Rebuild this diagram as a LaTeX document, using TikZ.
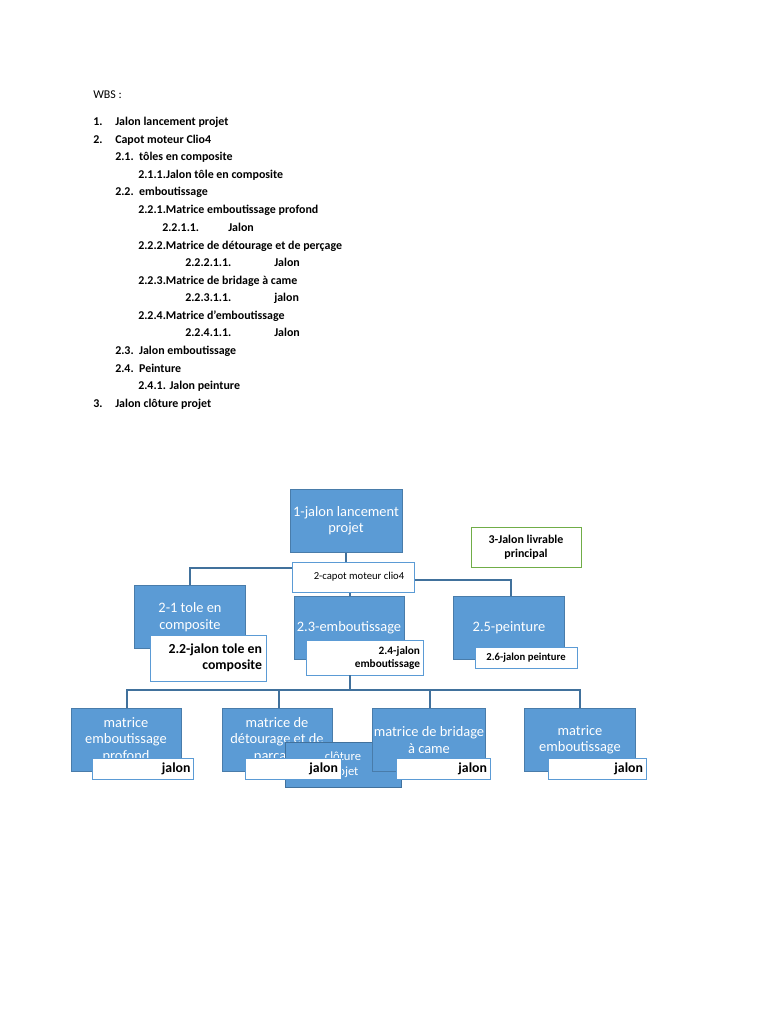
\documentclass[tikz,border=0pt]{standalone}
\usepackage{fontspec}
\setmainfont{Carlito}
\definecolor{wbsblue}{HTML}{5B9BD5}
\definecolor{wbsedge}{HTML}{41719C}
\definecolor{wbsgreen}{HTML}{70AD47}
\newcommand\px{0.7969pt}
\tikzset{
  task/.style={fill=wbsblue, draw=wbsblue!80!black, text=white, font=\fontsize{11.5}{13}\selectfont, align=center, inner sep=1pt},
  mile/.style={fill=white, draw=wbsblue, font=\fontsize{9.5}{11}\selectfont\bfseries, align=flush right, inner sep=2pt},
  item/.style={anchor=base west, font=\fontsize{9.5}{11}\selectfont\bfseries, inner sep=0pt},
  wire/.style={draw=wbsedge, line width=0.9pt}
}
\begin{document}
\begin{tikzpicture}[x=0.7969pt, y=-0.7969pt]
\useasboundingbox (0,0) rectangle (768,1024);
% liste WBS
\node[item, font=\fontsize{9.5}{11}\selectfont] (W0) at (93,99) {WBS :};
\node[item] (W1n) at (93,126) {1.};
\node[item] (W1) at (115,126) {Jalon lancement projet};
\node[item] (W2n) at (93,144) {2.};
\node[item] (W2) at (115,144) {Capot moteur Clio4};
\node[item] (W21) at (115,161) {2.1.\ \ tôles en composite};
\node[item] (W211) at (138,179) {2.1.1.Jalon tôle en composite};
\node[item] (W22) at (115,196) {2.2.\ \ emboutissage};
\node[item] (W221) at (138,214) {2.2.1.Matrice emboutissage profond};
\node[item] (W2211n) at (162,231) {2.2.1.1.};
\node[item] (W2211) at (228,231) {Jalon};
\node[item] (W222) at (138,249) {2.2.2.Matrice de détourage et de perçage};
\node[item] (W2221n) at (185,266) {2.2.2.1.1.};
\node[item] (W2221) at (274,266) {Jalon};
\node[item] (W223) at (138,284) {2.2.3.Matrice de bridage à came};
\node[item] (W2231n) at (185,301) {2.2.3.1.1.};
\node[item] (W2231) at (274,301) {jalon};
\node[item] (W224) at (138,319) {2.2.4.Matrice d’emboutissage};
\node[item] (W2241n) at (185,336) {2.2.4.1.1.};
\node[item] (W2241) at (274,336) {Jalon};
\node[item] (W23) at (115,354) {2.3.\ \ Jalon emboutissage};
\node[item] (W24) at (115,372) {2.4.\ \ Peinture};
\node[item] (W241) at (138,389) {2.4.1. Jalon peinture};
\node[item] (W3n) at (93,407) {3.};
\node[item] (W3) at (115,407) {Jalon clôture projet};
% organigramme
\node[task, minimum width=112*\px, minimum height=63*\px] (T1) at (346,521) {1-jalon lancement\\projet};
\node[draw=wbsgreen, line width=0.8pt, minimum width=110*\px, minimum height=40*\px, font=\fontsize{9.5}{11}\selectfont\bfseries, align=center, inner sep=1pt] (T3) at (526,547) {3-Jalon livrable\\principal};
\coordinate (L1) at (190,568);
\coordinate (R1) at (511,580);
\draw[wire] (T1.south) -- (346,568) -- (L1) -- (190,585);
\draw[wire] (346,580) -- (R1) -- (511,597);
\draw[wire] (350,592) -- (350,597);
\node[mile, minimum width=122*\px, minimum height=30*\px, font=\fontsize{8.5}{10}\selectfont, align=center] (T2) at (353,577) {\ \ \ \ \ 2-capot moteur clio4};
\node[task, minimum width=111*\px, minimum height=63*\px] (T21) at (190,617) {2-1 tole en\\composite};
\node[mile, minimum width=116*\px, minimum height=46*\px, text width=108*\px, font=\fontsize{11}{13}\selectfont\bfseries] (T22) at (208,658) {2.2-jalon tole en\\composite};
\node[task, minimum width=110*\px, minimum height=63*\px] (T23) at (349,628) {2.3-emboutissage};
\node[task, minimum width=111*\px, minimum height=63*\px] (T25) at (509,628) {2.5-peinture};
\node[mile, minimum width=102*\px, minimum height=21*\px, font=\fontsize{8.5}{10}\selectfont\bfseries] (T26) at (526,658) {2.6-jalon peinture};
\node[mile, minimum width=117*\px, minimum height=35*\px, text width=110*\px, font=\fontsize{9}{10.5}\selectfont\bfseries] (T24) at (365,658) {2.4-jalon\\emboutissage};
\coordinate (B0) at (127,690);
\coordinate (B3) at (580,690);
\draw[wire] (350,675) -- (350,690);
\draw[wire] (127,708) -- (B0) -- (B3) -- (580,708);
\draw[wire] (279,690) -- (279,708);
\draw[wire] (430,690) -- (430,708);
\node[task, minimum width=110*\px, minimum height=63*\px] (M1) at (126,740) {matrice\\emboutissage\\profond};
\node[task, minimum width=110*\px, minimum height=63*\px] (M2) at (277,740) {matrice de\\détourage et de\\parcage};
\node[task, minimum width=116*\px, minimum height=45*\px, font=\fontsize{10}{12}\selectfont, draw=wbsedge] (C3) at (343,765) {clôture\\projet};
\node[task, minimum width=110*\px, minimum height=63*\px] (M3) at (429,740) {matrice de bridage\\à came};
\node[task, minimum width=111*\px, minimum height=63*\px] (M4) at (580,740) {matrice\\emboutissage};
\node[mile, minimum width=101*\px, minimum height=21*\px, text width=95*\px, font=\fontsize{11}{12}\selectfont\bfseries] (J1) at (143,769) {jalon};
\node[mile, minimum width=96*\px, minimum height=21*\px, text width=90*\px, font=\fontsize{11}{12}\selectfont\bfseries] (J2) at (293,769) {jalon};
\node[mile, minimum width=94*\px, minimum height=21*\px, text width=88*\px, font=\fontsize{11}{12}\selectfont\bfseries] (J3) at (443,769) {jalon};
\node[mile, minimum width=98*\px, minimum height=21*\px, text width=92*\px, font=\fontsize{11}{12}\selectfont\bfseries] (J4) at (597,769) {jalon};
\end{tikzpicture}
\end{document}
